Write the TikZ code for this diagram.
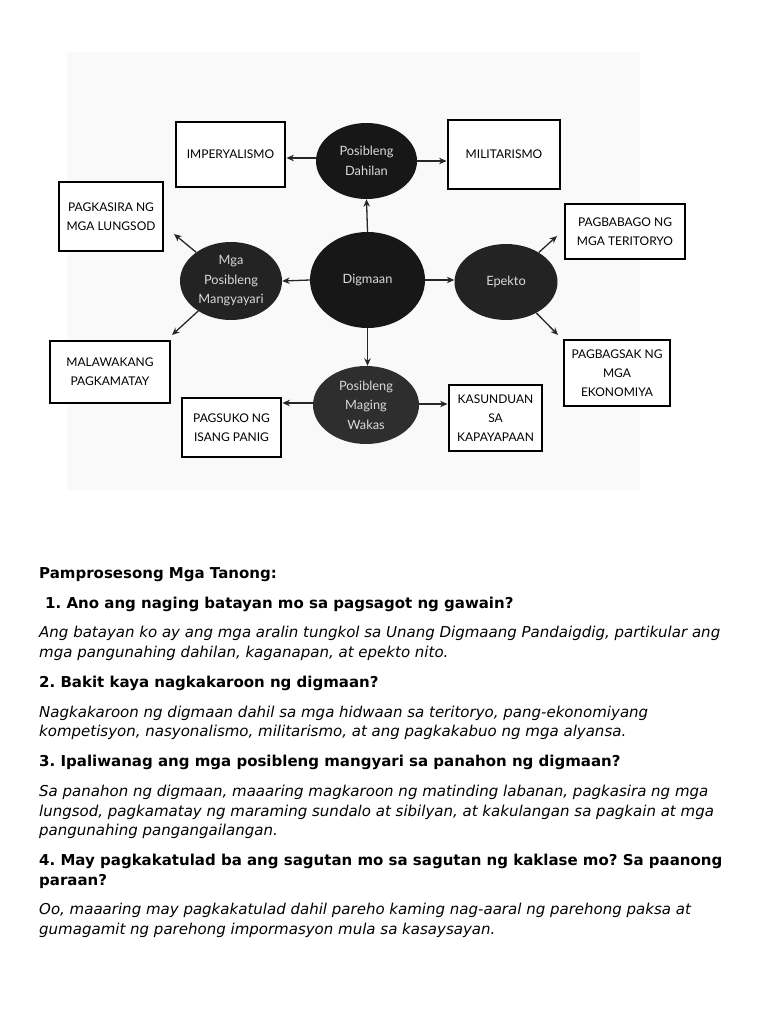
\documentclass[tikz,border=0pt]{standalone}
\usepackage{fontspec}
\setmainfont{DejaVu Sans}
\newfontfamily\latofont{Lato}
\usetikzlibrary{shapes.geometric,arrows.meta}
\frenchspacing
\definecolor{bgphoto}{HTML}{F9F9F9}
\definecolor{ellfill}{HTML}{171717}
\definecolor{ellfillb}{HTML}{232323}
\definecolor{ellfillc}{HTML}{2E2E2E}
\definecolor{elltext}{HTML}{DADADA}
\tikzset{
  ell/.style={ellipse, fill=ellfill, inner sep=0pt, text=elltext, align=center,
    font=\latofont\fontsize{12.8}{19.5}\selectfont},
  box/.style={draw=black, line width=2.9pt, fill=white, inner sep=0pt, align=center,
    font=\latofont\fontsize{12}{19}\selectfont},
  arr/.style={line width=1.3pt, draw=black!85, -{Stealth[length=7.5pt,width=6.5pt]}},
  qline/.style={anchor=base west, inner sep=0pt, font=\bfseries\fontsize{15}{18}\selectfont},
  aline/.style={anchor=base west, inner sep=0pt, font=\itshape\fontsize{15}{18}\selectfont},
}
\begin{document}
\begin{tikzpicture}[x=1pt,y=-1pt]
\useasboundingbox (0,0) rectangle (768,1024);
\fill[white] (0,0) rectangle (768,1024);
\fill[bgphoto] (67,52) rectangle (640,490);

% ellipses
\node[ell, minimum width=115pt, minimum height=96pt] (dig) at (367.5,280) {Digmaan};
\node[ell, minimum width=101pt, minimum height=76pt] (dah) at (366.5,161) {Posibleng\\Dahilan};
\node[ell, fill=ellfillb, minimum width=102pt, minimum height=78pt] (mang) at (231,281) {Mga\\Posibleng\\Mangyayari};
\node[ell, fill=ellfillb, minimum width=103pt, minimum height=76pt] (epe) at (506,282) {Epekto};
\node[ell, fill=ellfillc, minimum width=106pt, minimum height=78pt] (wak) at (366,405) {Posibleng\\Maging\\Wakas};

% boxes
\node[box, minimum width=109pt, minimum height=65pt] (imp) at (230.5,154.5) {IMPERYALISMO};
\node[box, minimum width=112pt, minimum height=69pt] (mil) at (504,154.5) {MILITARISMO};
\node[box, minimum width=104pt, minimum height=69pt] (pagk) at (111,216.5) {PAGKASIRA NG\\MGA LUNGSOD};
\node[box, minimum width=120pt, minimum height=55pt] (pagb) at (625,231.5) {PAGBABAGO NG\\MGA TERITORYO};
\node[box, minimum width=120pt, minimum height=62pt] (mal) at (110,372) {MALAWAKANG\\PAGKAMATAY};
\node[box, minimum width=106pt, minimum height=66pt] (pbag) at (617,373) {PAGBAGSAK NG\\MGA\\EKONOMIYA};
\node[box, minimum width=99pt, minimum height=59pt] (psuk) at (231.5,427.5) {PAGSUKO NG\\ISANG PANIG};
\node[box, minimum width=93pt, minimum height=66pt] (kas) at (495.5,418) {KASUNDUAN\\SA\\KAPAYAPAAN};

% free arrow ends
\coordinate (ul) at (174,234);
\coordinate (ll) at (172,335);
\coordinate (ur) at (557,236);
\coordinate (lr) at (558,335);

% connectors
\draw[arr] ([yshift=3pt]dah.west) -- ([yshift=3pt]dah.west -| imp.east);
\draw[arr] (dah.east) -- (dah.east -| mil.west);
\draw[arr] (dig.north) -- (dah.south);
\draw[arr] (dig.west) -- (mang.east);
\draw[arr] (dig.east) -- (dig.east -| epe.west);
\draw[arr] (dig.south) -- (dig.south |- wak.north);
\draw[arr] ([yshift=2pt]wak.west) -- ([yshift=2pt]wak.west -| psuk.east);
\draw[arr] ([yshift=1pt]wak.east) -- ([yshift=1pt]wak.east -| kas.west);
\draw[arr] (mang) -- (ul);
\draw[arr] (mang) -- (ll);
\draw[arr] (epe) -- (ur);
\draw[arr] (epe) -- (lr);

% text
\node[qline] (t0) at (39,578.5) {Pamprosesong Mga Tanong:};
\node[qline] (q1) at (45,608.5) {1. Ano ang naging batayan mo sa pagsagot ng gawain?};
\node[aline] (a1a) at (39,637.5) {Ang batayan ko ay ang mga aralin tungkol sa Unang Digmaang Pandaigdig, partikular ang};
\node[aline] (a1b) at (39,657) {mga pangunahing dahilan, kaganapan, at epekto nito.};
\node[qline] (q2) at (39,687) {2. Bakit kaya nagkakaroon ng digmaan?};
\node[aline] (a2a) at (39,717) {Nagkakaroon ng digmaan dahil sa mga hidwaan sa teritoryo, pang-ekonomiyang};
\node[aline] (a2b) at (39,736.5) {kompetisyon, nasyonalismo, militarismo, at ang pagkakabuo ng mga alyansa.};
\node[qline] (q3) at (39,766.5) {3. Ipaliwanag ang mga posibleng mangyari sa panahon ng digmaan?};
\node[aline] (a3a) at (39,796) {Sa panahon ng digmaan, maaaring magkaroon ng matinding labanan, pagkasira ng mga};
\node[aline] (a3b) at (39,816) {lungsod, pagkamatay ng maraming sundalo at sibilyan, at kakulangan sa pagkain at mga};
\node[aline] (a3c) at (39,835.5) {pangunahing pangangailangan.};
\node[qline] (q4a) at (39,865.5) {4. May pagkakatulad ba ang sagutan mo sa sagutan ng kaklase mo? Sa paanong};
\node[qline] (q4b) at (39,885) {paraan?};
\node[aline] (a4a) at (39,914.5) {Oo, maaaring may pagkakatulad dahil pareho kaming nag-aaral ng parehong paksa at};
\node[aline] (a4b) at (39,934) {gumagamit ng parehong impormasyon mula sa kasaysayan.};
\end{tikzpicture}
\end{document}
